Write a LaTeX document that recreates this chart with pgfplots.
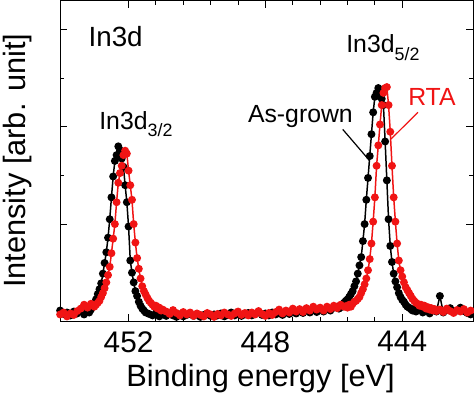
\documentclass[border=0pt]{standalone}
\usepackage{fontspec}
\setmainfont{Liberation Sans}
\usepackage{pgfplots}
\pgfplotsset{compat=1.18}
\usepackage{pgfplotstable}
\definecolor{rtared}{RGB}{240,20,20}

\pgfplotstableread{
x y
454.0 0.22
453.9 0.15
453.8 0.18
453.7 0.12
453.6 0.20
453.5 0.16
453.4 0.22
453.3 0.14
453.2 0.20
453.15 0.18
453.10 0.24
453.05 0.30
453.00 0.36
452.95 0.45
452.90 0.56
452.85 0.66
452.80 0.78
452.75 0.98
452.70 1.20
452.65 1.42
452.60 1.72
452.55 2.10
452.50 2.55
452.45 2.98
452.40 3.30
452.35 3.42
452.30 3.60
452.25 3.52
452.20 3.35
452.15 3.18
452.10 2.80
452.05 2.45
452.00 1.95
451.95 1.25
451.90 1.00
451.85 0.80
451.80 0.62
451.75 0.52
451.70 0.40
451.65 0.32
451.60 0.26
451.55 0.22
451.50 0.18
451.4 0.15
451.3 0.12
451.2 0.17
451.1 0.10
451.0 0.14
450.9 0.11
450.8 0.16
450.7 0.12
450.6 0.09
450.5 0.14
450.4 0.10
450.3 0.13
450.2 0.16
450.1 0.11
450.0 0.14
449.9 0.09
449.8 0.13
449.7 0.15
449.6 0.11
449.5 0.14
449.4 0.12
449.3 0.16
449.2 0.10
449.1 0.13
449.0 0.18
448.9 0.12
448.8 0.15
448.7 0.11
448.6 0.14
448.5 0.17
448.4 0.12
448.3 0.15
448.2 0.19
448.1 0.13
448.0 0.16
447.9 0.12
447.8 0.18
447.7 0.14
447.6 0.17
447.5 0.13
447.4 0.19
447.3 0.15
447.2 0.20
447.1 0.16
447.0 0.21
446.9 0.17
446.8 0.22
446.7 0.18
446.6 0.23
446.5 0.19
446.4 0.24
446.3 0.20
446.2 0.26
446.1 0.22
446.0 0.28
445.9 0.30
445.85 0.26
445.80 0.32
445.75 0.30
445.70 0.38
445.65 0.42
445.60 0.45
445.55 0.50
445.50 0.56
445.45 0.62
445.40 0.72
445.35 0.82
445.30 0.98
445.25 1.15
445.20 1.32
445.15 1.65
445.10 2.00
445.05 2.50
445.00 2.95
444.95 3.40
444.90 3.85
444.85 4.30
444.80 4.62
444.75 4.70
444.70 4.80
444.65 4.66
444.60 4.58
444.55 4.45
444.50 3.70
444.45 2.90
444.40 2.10
444.35 1.55
444.30 1.22
444.25 0.98
444.20 0.82
444.15 0.70
444.10 0.58
444.05 0.50
444.00 0.44
443.95 0.40
443.90 0.34
443.85 0.30
443.80 0.28
443.75 0.25
443.70 0.22
443.65 0.26
443.60 0.20
443.5 0.24
443.4 0.18
443.3 0.22
443.2 0.16
443.1 0.25
443.0 0.20
442.9 0.52
442.8 0.18
442.7 0.23
442.6 0.27
442.5 0.19
442.4 0.22
442.3 0.28
442.2 0.21
442.1 0.17
442.0 0.14
}\asgrown

\pgfplotstableread{
x y
454.0 0.14
453.9 0.18
453.8 0.10
453.7 0.16
453.6 0.13
453.5 0.21
453.4 0.26
453.3 0.34
453.2 0.28
453.1 0.36
453.0 0.30
452.95 0.34
452.90 0.38
452.85 0.42
452.80 0.50
452.75 0.58
452.70 0.68
452.65 0.80
452.60 0.95
452.55 1.12
452.50 1.40
452.45 1.70
452.40 2.00
452.35 2.45
452.30 2.85
452.25 3.05
452.20 3.20
452.15 3.42
452.10 3.51
452.05 3.45
452.00 3.10
451.95 2.80
451.90 2.50
451.85 2.00
451.80 1.62
451.75 1.30
451.70 1.08
451.65 0.88
451.60 0.72
451.55 0.62
451.50 0.55
451.45 0.48
451.40 0.42
451.35 0.38
451.30 0.34
451.25 0.30
451.20 0.32
451.15 0.26
451.10 0.28
451.05 0.22
451.00 0.24
450.9 0.20
450.8 0.15
450.7 0.23
450.6 0.17
450.5 0.12
450.4 0.19
450.3 0.14
450.2 0.18
450.1 0.11
450.0 0.16
449.9 0.13
449.8 0.10
449.7 0.17
449.6 0.14
449.5 0.09
449.4 0.15
449.3 0.12
449.2 0.18
449.1 0.14
449.0 0.11
448.9 0.16
448.8 0.20
448.7 0.13
448.6 0.17
448.5 0.12
448.4 0.18
448.3 0.14
448.2 0.21
448.1 0.15
448.0 0.11
447.9 0.17
447.8 0.13
447.7 0.19
447.6 0.24
447.5 0.16
447.4 0.22
447.3 0.18
447.2 0.26
447.1 0.20
447.0 0.25
446.9 0.19
446.8 0.27
446.7 0.22
446.6 0.30
446.5 0.24
446.4 0.28
446.3 0.22
446.2 0.30
446.1 0.25
446.0 0.32
445.9 0.27
445.8 0.34
445.7 0.30
445.65 0.31
445.60 0.28
445.55 0.34
445.50 0.30
445.45 0.36
445.40 0.40
445.35 0.42
445.30 0.46
445.25 0.50
445.20 0.58
445.15 0.66
445.10 0.76
445.05 0.88
445.00 1.05
444.95 1.28
444.90 1.60
444.85 2.05
444.80 2.55
444.75 3.20
444.70 3.62
444.65 4.05
444.60 4.45
444.55 4.70
444.50 4.80
444.45 4.82
444.40 4.45
444.35 3.90
444.30 3.20
444.25 2.55
444.20 2.05
444.15 1.60
444.10 1.25
444.05 1.05
444.00 0.92
443.95 0.80
443.90 0.70
443.85 0.64
443.80 0.58
443.75 0.52
443.70 0.46
443.65 0.42
443.60 0.38
443.55 0.36
443.50 0.32
443.45 0.34
443.40 0.30
443.35 0.32
443.30 0.26
443.25 0.29
443.20 0.24
443.15 0.27
443.10 0.22
443.05 0.25
443.00 0.21
442.9 0.24
442.8 0.19
442.7 0.26
442.6 0.21
442.5 0.17
442.4 0.23
442.3 0.20
442.2 0.25
442.1 0.18
442.0 0.22
441.9 0.16
}\rta

\begin{document}
\begin{tikzpicture}
\begin{axis}[
  scale only axis, width=415bp, height=322bp,
  x dir=reverse, xmin=441.92, xmax=454.0, ymin=0, ymax=6.6,
  xtick={444,448,452}, minor x tick num=4,
  ytick={2,4,6}, minor y tick num=1, yticklabels={},
  tick align=inside, major tick length=7bp, minor tick length=4bp,
  axis line style={line width=1.2bp},
  every tick/.style={black, line width=1bp},
  /pgf/number format/assume math mode=true,
  xticklabel style={font=\fontsize{30}{36}\selectfont, anchor=north, inner sep=0pt, yshift=-10bp},
  every axis x label/.style={at={(axis description cs:0.485,-0.202)}, anchor=base, font=\fontsize{31}{37}\selectfont},
  every axis y label/.style={at={(axis description cs:-0.0836,0.5)}, anchor=base, rotate=90, font=\fontsize{31}{37}\selectfont},
  xlabel={Binding energy [eV]}, ylabel={Intensity [arb. unit]},
]
\addplot[black, line width=1.5bp, mark=*, mark size=3.2bp] table[x=x,y=y] {\asgrown};
\addplot[rtared, line width=1.5bp, mark=*, mark size=3.2bp, mark options={fill=rtared, draw=rtared}] table[x=x,y=y] {\rta};

\node[anchor=west, font=\fontsize{28}{32}\selectfont] at (axis cs:453.27,5.86) {In3d};
\node[anchor=base west, inner sep=0pt, font=\fontsize{25}{30}\selectfont] at (axis cs:452.86,3.95) {In3d\raisebox{-0.3em}{\fontsize{18}{20}\selectfont 3/2}};
\node[anchor=base west, inner sep=0pt, font=\fontsize{25}{30}\selectfont] at (axis cs:445.64,5.53) {In3d\raisebox{-0.3em}{\fontsize{18}{20}\selectfont 5/2}};
\node[anchor=base east, inner sep=0pt, font=\fontsize{25}{30}\selectfont] at (axis cs:445.44,4.10) {As-grown};
\node[anchor=base west, inner sep=0pt, text=rtared, font=\fontsize{25}{30}\selectfont] at (axis cs:443.83,4.45) {RTA};
\draw[black, line width=1.2bp] (axis cs:445.74,3.95) -- (axis cs:444.96,3.31);
\draw[rtared, line width=1.2bp] (axis cs:443.54,4.30) -- (axis cs:444.33,3.75);
\end{axis}
\end{tikzpicture}
\end{document}
